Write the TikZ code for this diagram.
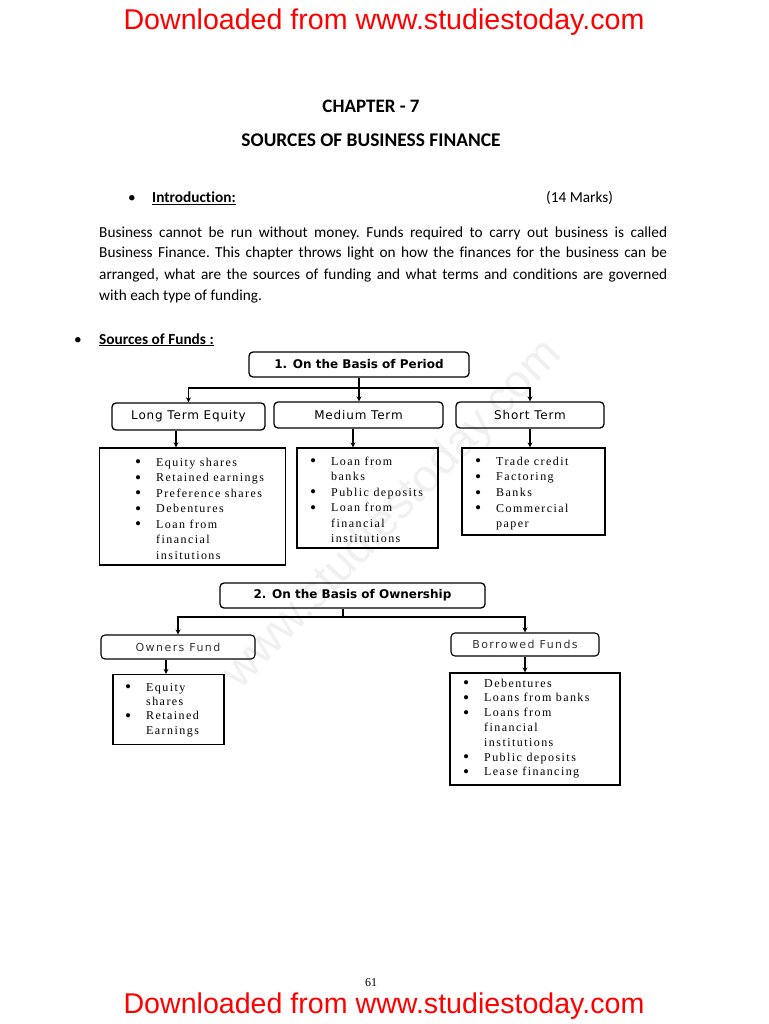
\documentclass[tikz,border=0pt]{standalone}
\usepackage{fontspec}
\setmainfont[Ligatures=NoCommon]{Carlito}
\newfontfamily\hdrfont{Liberation Sans}
\newfontfamily\boxfont[LetterSpace=7]{DejaVu Sans}
\newfontfamily\boxbfont{DejaVu Sans}
\newfontfamily\ownfont[LetterSpace=13]{DejaVu Sans}
\newfontfamily\listfont[LetterSpace=12]{Liberation Serif}
\newfontfamily\pgfont{Liberation Serif}
\usetikzlibrary{arrows.meta}
\newcommand{\plist}[2]{{\listfont\fontsize{12}{#1}\selectfont
  \begin{tabular}[t]{@{}p{21pt}@{}l@{}}#2\end{tabular}}}
\newcommand{\bul}{\raisebox{-1.6pt}{\scalebox{1.45}{\textbullet}}}
\newcommand{\bodyfont}{\fontsize{15.3}{20}\selectfont\frenchspacing}
\begin{document}
\begin{tikzpicture}[x=1pt,y=-1pt,
  catbox/.style={draw, line width=1.3pt, rounded corners=4pt, inner sep=0pt},
  listbox/.style={draw, line width=1.2pt, inner sep=0pt},
  conn/.style={line width=1.4pt},
  arr/.style={line width=1.4pt, -{Stealth[length=5pt,width=5pt]}},
  txt/.style={inner sep=0pt, anchor=base west}]
\useasboundingbox (0,0) rectangle (768,1024);
\fill[white] (0,0) rectangle (768,1024);

% watermark
\node[text=black!6, rotate=46, inner sep=0pt] (wm) at (393,515)
  {\hdrfont\fontsize{46}{46}\selectfont www.studiestoday.com};

% header / footer
\node[text=red, inner sep=0pt, anchor=base] (hdr) at (384,30)
  {\hdrfont\fontsize{28.6}{30}\selectfont Downloaded from www.studiestoday.com};
\node[text=red, inner sep=0pt, anchor=base] (ftr) at (384,1013)
  {\hdrfont\fontsize{28.6}{30}\selectfont Downloaded from www.studiestoday.com};
\node[inner sep=0pt, anchor=base] (pg) at (371,986) {\pgfont\fontsize{12}{14}\selectfont 61};

% titles
\node[inner sep=0pt, anchor=base] (ch) at (371,113) {\fontsize{19}{20}\selectfont\bfseries CHAPTER - 7};
\node[inner sep=0pt, anchor=base] (ti) at (371,147) {\fontsize{19.4}{20}\selectfont\bfseries SOURCES OF BUSINESS FINANCE};

% introduction
\node[txt] (ib) at (128,203) {\bodyfont\textbullet};
\node[txt] (it) at (152,203) {\bodyfont\bfseries\underline{Introduction:}};
\node[txt] (im) at (546,203) {\bodyfont (14 Marks)};

\node[txt] (p1) at (99,237) {\bodyfont\makebox[568pt][s]{Business cannot be run without money. Funds required to carry out business is called}};
\node[txt] (p2) at (99,258) {\bodyfont\makebox[568pt][s]{Business Finance. This chapter throws light on how the finances for the business can be}};
\node[txt] (p3) at (99,279) {\bodyfont\makebox[568pt][s]{arranged, what are the sources of funding and what terms and conditions are governed}};
\node[txt] (p4) at (99,300) {\bodyfont with each type of funding.};

\node[txt] (sb) at (74,344) {\bodyfont\textbullet};
\node[txt] (st0) at (99,344) {\bodyfont\bfseries\underline{Sources of Funds :}};

% ---------- diagram 1 ----------
\node[catbox, minimum width=220pt, minimum height=25pt] (p) at (359,364.5)
  {\boxbfont\fontsize{12}{13}\selectfont\bfseries 1. On the Basis of Period};
\node[catbox, minimum width=153pt, minimum height=27pt] (lt) at (188.5,416.5)
  {\boxfont\fontsize{12}{13}\selectfont Long Term Equity};
\node[catbox, minimum width=169pt, minimum height=26pt] (mt) at (358.5,415)
  {\boxfont\fontsize{12}{13}\selectfont Medium Term};
\node[catbox, minimum width=148pt, minimum height=26pt] (stt) at (530,415)
  {\boxfont\fontsize{12}{13}\selectfont Short Term};

\coordinate (j1) at (359,388);
\draw[conn] (p.south) -- (j1);
\draw[arr] (j1) -- (j1 |- mt.north);
\draw[arr] (j1) -| (lt.north);
\draw[arr] (j1) -| (stt.north);

\node[listbox, minimum width=186pt, minimum height=117pt] (ltl) at (192.5,506.5) {};
\node[listbox, minimum width=141pt, minimum height=100pt] (mtl) at (367.5,498) {};
\node[listbox, minimum width=143pt, minimum height=87pt] (stl) at (533.5,491.5) {};

\draw[arr] ([xshift=-12.5pt]lt.south) -- ([xshift=-12.5pt]lt.south |- ltl.north);
\draw[arr] ([xshift=-5.5pt]mt.south) -- ([xshift=-5.5pt]mt.south |- mtl.north);
\draw[arr] (stt.south) -- (stt.south |- stl.north);

\node[txt] (ltt) at (135,466) {\plist{15.5}{\bul & Equity shares\\ \bul & Retained earnings\\ \bul & Preference shares\\ \bul & Debentures\\ \bul & Loan from\\ & financial\\ & insitutions}};
\node[txt] (mtt) at (310,465) {\plist{15.5}{\bul & Loan from\\ & banks\\ \bul & Public deposits\\ \bul & Loan from\\ & financial\\ & institutions}};
\node[txt] (stt2) at (475,465) {\plist{15.7}{\bul & Trade credit\\ \bul & Factoring\\ \bul & Banks\\ \bul & Commercial\\ & paper}};

% ---------- diagram 2 ----------
\node[catbox, minimum width=265pt, minimum height=25pt] (q) at (352.5,595.5)
  {\boxbfont\fontsize{12}{13}\selectfont\bfseries 2. On the Basis of Ownership};
\node[catbox, line width=1.1pt, minimum width=154pt, minimum height=24pt] (of) at (178,647)
  {\ownfont\fontsize{11}{12}\selectfont\color{black!80} Owners Fund};
\node[catbox, line width=1.1pt, minimum width=148pt, minimum height=23pt] (bf) at (525,644.5)
  {\ownfont\fontsize{11}{12}\selectfont\color{black!80} Borrowed Funds};

\coordinate (j2) at ([xshift=-9.5pt]q.south |- 0,617);
\draw[conn] ([xshift=-9.5pt]q.south) -- (j2);
\draw[arr] (j2) -| (of.north);
\draw[arr] (j2) -| (bf.north);

\node[listbox, minimum width=111pt, minimum height=70pt] (ofl) at (168.5,709.5) {};
\node[listbox, minimum width=170pt, minimum height=112pt] (bfl) at (535,729) {};

\draw[arr] ([xshift=-12pt]of.south) -- ([xshift=-12pt]of.south |- ofl.north);
\draw[arr] (bf.south) -- (bf.south |- bfl.north);

\node[txt] (oft) at (125,691) {\plist{14.4}{\bul & Equity\\ & shares\\ \bul & Retained\\ & Earnings}};
\node[txt] (bft) at (463,687) {\plist{14.8}{\bul & Debentures\\ \bul & Loans from banks\\ \bul & Loans from\\ & financial\\ & institutions\\ \bul & Public deposits\\ \bul & Lease financing}};
\end{tikzpicture}
\end{document}
